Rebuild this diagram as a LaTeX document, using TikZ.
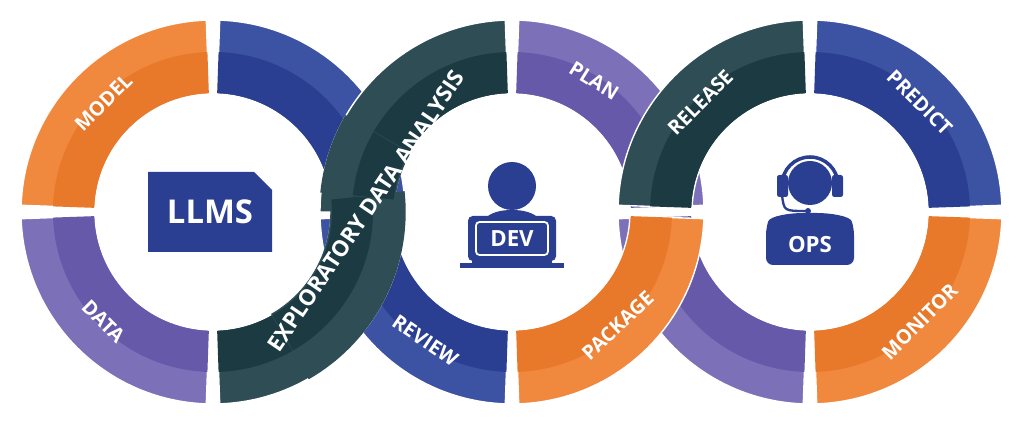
\documentclass[tikz,border=0pt]{standalone}
\usepackage{fontspec}
\setmainfont{Open Sans}
\usetikzlibrary{calc}
\definecolor{orO}{HTML}{F0883E}\definecolor{orI}{HTML}{E8782A}
\definecolor{blO}{HTML}{3C52A2}\definecolor{blI}{HTML}{2B3F92}
\definecolor{puO}{HTML}{7C70B8}\definecolor{puI}{HTML}{6659AA}
\definecolor{tlO}{HTML}{2F4D55}\definecolor{tlI}{HTML}{1B3A42}
\definecolor{icon}{HTML}{2B3F92}
\newcommand{\seg}[7][white]{%
 \fill[#6,draw=#1,line width=1.2pt] ([shift={(#2,#3)}]#4:192) arc[start angle=#4,end angle=#5,radius=192] -- ([shift={(#2,#3)}]#5:118) arc[start angle=#5,end angle=#4,radius=118] -- cycle;
 \fill[#7] ([shift={(#2,#3)}]#4:160) arc[start angle=#4,end angle=#5,radius=160] -- ([shift={(#2,#3)}]#5:119) arc[start angle=#5,end angle=#4,radius=119] -- cycle;}
\tikzset{lab/.style={text=white,font=\bfseries\fontsize{17}{17}\selectfont}}
\begin{document}
\begin{tikzpicture}[x=0.03cm,y=0.03cm]
\useasboundingbox (0,0) rectangle (1024,423);
% under layer
\seg{213}{211}{2}{88}{blO}{blI}
\seg{512}{211}{2}{88}{puO}{puI}
\seg{512}{211}{182}{268}{blO}{blI}
\seg{810}{211}{182}{268}{puO}{puI}
% left ring
\seg{213}{211}{92}{178}{orO}{orI}
\seg{213}{211}{182}{268}{puO}{puI}
% right ring
\seg{810}{211}{2}{88}{blO}{blI}
\seg{810}{211}{272}{358}{orO}{orI}
% over layer
\seg{213}{211}{272}{360}{tlO}{tlI}
\seg{512}{211}{92}{180}{tlO}{tlI}
\seg[tlO]{213}{211}{300}{366}{tlO}{tlI}
\seg[tlO]{512}{211}{174}{150}{tlO}{tlI}
\seg{512}{211}{272}{358}{orO}{orI}
\seg{810}{211}{92}{178}{tlO}{tlI}
% labels
\node[lab,rotate=45] (model) at ([shift={(213,211)}]135:155) {MODEL};
\node[lab,rotate=-45] (data) at ([shift={(213,211)}]225:155) {DATA};
\node[lab,rotate=-32] (plan) at ([shift={(512,211)}]58:155) {PLAN};
\node[lab,rotate=-34] (review) at ([shift={(512,211)}]236:155) {REVIEW};
\node[lab,rotate=43] (package) at ([shift={(512,211)}]313:155) {PACKAGE};
\node[lab,rotate=45] (release) at ([shift={(810,211)}]135:155) {RELEASE};
\node[lab,rotate=-45] (predict) at ([shift={(810,211)}]45:155) {PREDICT};
\node[lab,rotate=45] (monitor) at ([shift={(810,211)}]315:155) {MONITOR};
\node[lab,rotate=56,font=\bfseries\fontsize{19}{19}\selectfont] (eda) at (366,212) {EXPLORATORY DATA ANALYSIS};
% LLMS chip
\fill[icon] (148,171) -- (148,251) -- (254,251) -- (272,233) -- (272,171) -- cycle;
\node[text=white,font=\bfseries\fontsize{28}{28}\selectfont] (llms) at (210,211) {LLMS};
% DEV icon
\fill[icon] (512,237) circle (24);
\fill[icon] (472,160) .. controls (472,205) and (490,213) .. (512,213) .. controls (534,213) and (552,205) .. (552,160) -- cycle;
\fill[icon,rounded corners=4] (468,162) rectangle (556,207);
\draw[white,line width=1.5pt,rounded corners=3] (476,168) rectangle (548,201);
\fill[icon] (460,155) rectangle (564,160);
\node[text=white,font=\bfseries\fontsize{19}{19}\selectfont] (dev) at (512,184) {DEV};
% OPS icon
\fill[icon] (810,240) circle (22);
\draw[icon,line width=3pt] (782,238) arc[start angle=180,end angle=0,radius=28];
\fill[icon,rounded corners=2] (777,226) rectangle (788,248);
\fill[icon,rounded corners=2] (832,226) rectangle (843,248);
\draw[icon,line width=2pt] (782,228) .. controls (784,212) .. (806,212);
\fill[icon] (808,212) circle (3);
\fill[icon,rounded corners=6] (766,158) -- (766,195) .. controls (770,207) and (790,210) .. (810,210) .. controls (830,210) and (850,207) .. (854,195) -- (854,158) -- cycle;
\node[text=white,font=\bfseries\fontsize{19}{19}\selectfont] (ops) at (810,178) {OPS};
\end{tikzpicture}
\end{document}
